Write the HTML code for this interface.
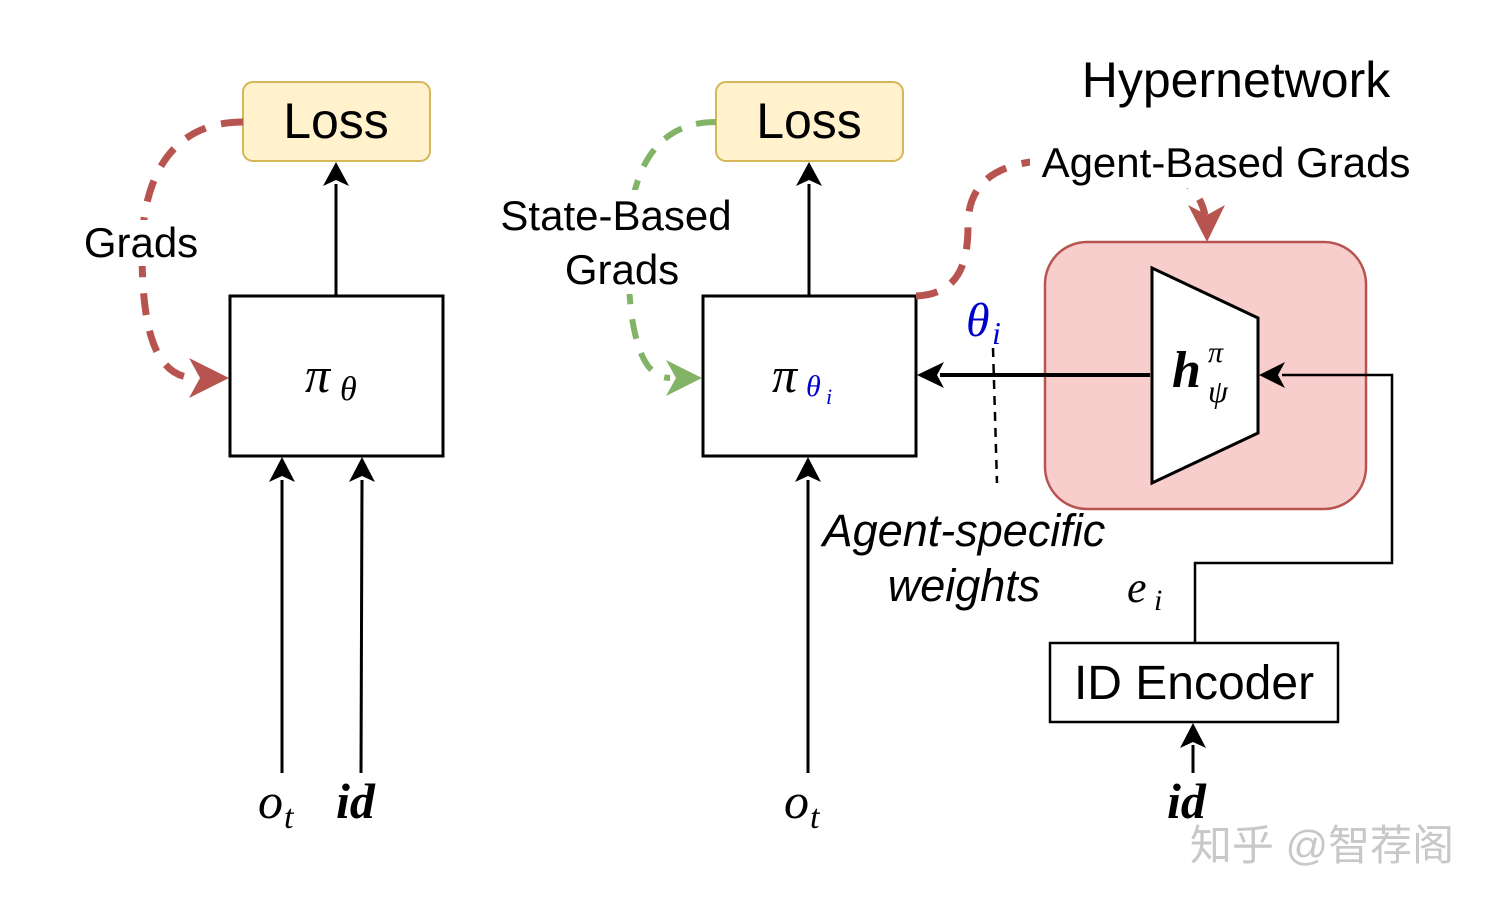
<!DOCTYPE html>
<html><head><meta charset="utf-8"><style>
html,body{margin:0;padding:0;background:#fff;}
svg{display:block}
.s{font-family:"Liberation Sans",sans-serif;}
.m{font-family:"Liberation Serif","DejaVu Serif",serif;font-style:italic;}
</style></head><body>
<svg width="1500" height="904" viewBox="0 0 1500 904" xmlns="http://www.w3.org/2000/svg">
<!-- LEFT -->
<rect x="243" y="82" width="187" height="79" rx="10" fill="#fff2cc" stroke="#d6b656" stroke-width="2"/>
<text x="336" y="138" class="s" font-size="50" text-anchor="middle">Loss</text>
<rect x="230" y="296" width="213" height="160" fill="#fff" stroke="#000" stroke-width="3"/>
<text x="305" y="392" class="m" font-size="50">π</text><text x="340" y="400" class="m" font-size="34">θ</text>
<line x1="336" y1="296" x2="336" y2="184" stroke="#000" stroke-width="3"/>
<path d="M336,162 L349,186 L336,180 L323,186Z" fill="#000"/>
<path d="M243,122 C170,122 142,180 142,250 C142,330 155,378 196,378" fill="none" stroke="#b85450" stroke-width="7" stroke-dasharray="22,16"/>
<path d="M229,378 L189,358 L200,378 L189,398Z" fill="#b85450"/>
<rect x="80" y="220" width="124" height="46" fill="#fff"/>
<text x="141" y="257" class="s" font-size="42" text-anchor="middle">Grads</text>
<line x1="282" y1="773" x2="282" y2="480" stroke="#000" stroke-width="3"/>
<path d="M282,457 L295,482 L282,476 L269,482Z" fill="#000"/>
<line x1="361" y1="773" x2="362" y2="480" stroke="#000" stroke-width="3"/>
<path d="M362,457 L375,482 L362,476 L349,482Z" fill="#000"/>
<text x="258" y="818" class="m" font-size="50">o</text><text x="284" y="828" class="m" font-size="34">t</text>
<text x="336" y="818" class="m" font-size="50" font-weight="bold">id</text>
<!-- MIDDLE -->
<rect x="716" y="82" width="187" height="79" rx="10" fill="#fff2cc" stroke="#d6b656" stroke-width="2"/>
<text x="809" y="138" class="s" font-size="50" text-anchor="middle">Loss</text>
<rect x="703" y="296" width="213" height="160" fill="#fff" stroke="#000" stroke-width="3"/>
<text x="772" y="392" class="m" font-size="50">π</text><text x="806" y="396" class="m" font-size="30" fill="#0000cc">θ</text><text x="826" y="404" class="m" font-size="22" fill="#0000cc">i</text>
<line x1="809" y1="296" x2="809" y2="184" stroke="#000" stroke-width="3"/>
<path d="M809,162 L822,186 L809,180 L796,186Z" fill="#000"/>
<path d="M716,122 C650,122 628,180 628,250 C628,330 640,378 670,378" fill="none" stroke="#82b366" stroke-width="6" stroke-dasharray="20,15"/>
<path d="M702,378 L666,360 L676,378 L666,396Z" fill="#82b366"/>
<rect x="492" y="190" width="246" height="104" fill="#fff"/>
<text x="616" y="230" class="s" font-size="42" text-anchor="middle">State-Based</text>
<text x="622" y="284" class="s" font-size="42" text-anchor="middle">Grads</text>
<line x1="808" y1="773" x2="808" y2="480" stroke="#000" stroke-width="3"/>
<path d="M808,457 L821,482 L808,476 L795,482Z" fill="#000"/>
<text x="784" y="818" class="m" font-size="50">o</text><text x="810" y="828" class="m" font-size="34">t</text>
<!-- RIGHT -->
<text x="1236" y="97" class="s" font-size="50" text-anchor="middle">Hypernetwork</text>
<path d="M916,296 C960,294 968,262 968,225 C968,180 1000,160 1060,160 C1150,160 1195,170 1205,215" fill="none" stroke="#b85450" stroke-width="7" stroke-dasharray="22,16"/>
<path d="M1207,242 L1188,205 L1207,215 L1225,205Z" fill="#b85450"/>
<rect x="1030" y="136" width="390" height="52" fill="#fff"/>
<text x="1226" y="177" class="s" font-size="42" text-anchor="middle">Agent-Based Grads</text>
<rect x="1045" y="242" width="321" height="267" rx="42" fill="#f8cecc" stroke="#b85450" stroke-width="2.5"/>
<polygon points="1152,268 1258,318 1258,433 1152,483" fill="#fff" stroke="#000" stroke-width="3"/>
<text x="1172" y="387" class="m" font-size="52" font-weight="bold">h</text>
<text x="1208" y="362" class="m" font-size="30">π</text>
<text x="1208" y="402" class="m" font-size="32">ψ</text>
<line x1="1150" y1="375" x2="940" y2="375" stroke="#000" stroke-width="4"/>
<path d="M917,375 L944,362 L937,375 L944,388Z" fill="#000"/>
<line x1="993" y1="348" x2="997" y2="483" stroke="#000" stroke-width="2.5" stroke-dasharray="9,7"/>
<text x="966" y="336" class="m" font-size="48" fill="#0000cc">θ</text><text x="992" y="344" class="m" font-size="32" fill="#0000cc">i</text>
<polyline points="1195,643 1195,563 1392,563 1392,375 1282,375" fill="none" stroke="#000" stroke-width="2.5"/>
<path d="M1259,375 L1285,362 L1278,375 L1285,388Z" fill="#000"/>
<text x="1127" y="602" class="m" font-size="44">e</text><text x="1154" y="610" class="m" font-size="30">i</text>
<text x="964" y="546" class="s" font-size="45" font-style="italic" text-anchor="middle">Agent-specific</text>
<text x="964" y="601" class="s" font-size="45" font-style="italic" text-anchor="middle">weights</text>
<rect x="1050" y="643" width="288" height="79" fill="#fff" stroke="#000" stroke-width="2.5"/>
<text x="1194" y="699" class="s" font-size="48" text-anchor="middle">ID Encoder</text>
<line x1="1193" y1="773" x2="1193" y2="745" stroke="#000" stroke-width="3"/>
<path d="M1193,723 L1206,748 L1193,742 L1180,748Z" fill="#000"/>
<text x="1167" y="818" class="m" font-size="50" font-weight="bold">id</text>
<text x="1322" y="860" font-family="'Liberation Sans','Noto Sans CJK SC',sans-serif" font-size="42" fill="#c8c8c8" text-anchor="middle">知乎 @智荐阁</text>
</svg>
</body></html>
